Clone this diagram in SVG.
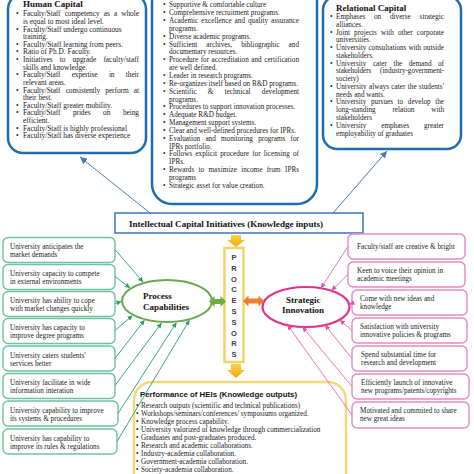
<svg xmlns="http://www.w3.org/2000/svg" width="474" height="474" viewBox="0 0 474 474">
<defs>
<style>
.t{font-family:"Liberation Serif","Times New Roman",serif;font-size:7.2px;fill:#222}
.th{font-family:"Liberation Serif","Times New Roman",serif;font-size:7.4px;fill:#222}
.h{font-family:"Liberation Serif","Times New Roman",serif;font-weight:bold;font-size:9px;fill:#111}
.bx{fill:#fff;stroke:#1e6db0;stroke-width:2.5}
.gb{fill:#fff;stroke:#6cc49f;stroke-width:1.4}
.pb{fill:#fff;stroke:#e58ac0;stroke-width:1.4}
.gl{stroke:#3aa58a;stroke-width:1;fill:none}
.pl{stroke:#e27ab4;stroke-width:1;fill:none}
.bl{stroke:#4a7bb0;stroke-width:1;fill:none}
.pr{font-family:"Liberation Sans",Arial,sans-serif;font-weight:bold;font-size:7.5px;fill:#404040;text-anchor:middle}
</style>
<marker id="ab" viewBox="0 0 10 10" refX="10" refY="5" markerWidth="7" markerHeight="7" markerUnits="userSpaceOnUse" orient="auto"><path d="M0,0 L10,5 L0,10 z" fill="#4a7bb0"/></marker>
<marker id="ag" viewBox="0 0 10 10" refX="10" refY="5" markerWidth="5" markerHeight="5" markerUnits="userSpaceOnUse" orient="auto"><path d="M0,0 L10,5 L0,10 z" fill="#2e9e5b"/></marker>
<marker id="ap" viewBox="0 0 10 10" refX="10" refY="5" markerWidth="5" markerHeight="5" markerUnits="userSpaceOnUse" orient="auto"><path d="M0,0 L10,5 L0,10 z" fill="#e0529c"/></marker>
<linearGradient id="gold" x1="0" y1="0" x2="0" y2="1"><stop offset="0" stop-color="#fbd24a"/><stop offset="1" stop-color="#f1ab08"/></linearGradient>
</defs>
<rect width="474" height="474" fill="#fff"/>

<g id="human-capital">
<rect class="bx" x="8" y="-6" width="138" height="159" rx="15"/>
<text class="h" x="23" y="7">Human Capital</text>
<g class="th">
<text x="16" y="16.3">•</text><text x="23" y="16.3" word-spacing="2.4" textLength="116" lengthAdjust="spacing">Faculty/Staff competency as a whole</text>
<text x="23" y="23.9">is equal to most ideal level.</text>
<text x="16" y="31.5">•</text><text x="23" y="31.5">Faculty/Staff undergo continuous</text>
<text x="23" y="39.2">training.</text>
<text x="16" y="46.8">•</text><text x="23" y="46.8">Faculty/Staff learning from peers.</text>
<text x="16" y="54.4">•</text><text x="23" y="54.4">Ratio of Ph.D. Faculty.</text>
<text x="16" y="62">•</text><text x="23" y="62" word-spacing="5.2" textLength="116" lengthAdjust="spacing">Initiatives to upgrade faculty/staff</text>
<text x="23" y="69.6">skills and knowledge.</text>
<text x="16" y="77.3">•</text><text x="23" y="77.3" word-spacing="9.6" textLength="116" lengthAdjust="spacing">Faculty/Staff expertise in their</text>
<text x="23" y="84.9">relevant areas.</text>
<text x="16" y="92.5">•</text><text x="23" y="92.5" word-spacing="3.4" textLength="116" lengthAdjust="spacing">Faculty/Staff consistently perform at</text>
<text x="23" y="100.1">their best.</text>
<text x="16" y="107.7">•</text><text x="23" y="107.7">Faculty/Staff greater mobility.</text>
<text x="16" y="115.4">•</text><text x="23" y="115.4" word-spacing="10.9" textLength="116" lengthAdjust="spacing">Faculty/Staff prides on being</text>
<text x="23" y="123">efficient.</text>
<text x="16" y="130.6">•</text><text x="23" y="130.6">Faculty/Staff is highly professional</text>
<text x="16" y="138.2">•</text><text x="23" y="138.2">Faculty/Staff has diverse experience</text>
</g>
</g>

<g id="structural-capital">
<rect class="bx" x="152" y="-20" width="165" height="224" rx="20"/>
<g class="t">
<text x="163" y="7.3">•</text><text x="169" y="7.3">Supportive &amp; comfortable culture</text>
<text x="163" y="15.15">•</text><text x="169" y="15.15">Comprehensive recruitment programs.</text>
<text x="163" y="23">•</text><text x="169" y="23" word-spacing="1.2" textLength="130" lengthAdjust="spacing">Academic excellence and quality assurance</text>
<text x="169" y="30.85">programs.</text>
<text x="163" y="38.7">•</text><text x="169" y="38.7">Diverse academic programs.</text>
<text x="163" y="46.55">•</text><text x="169" y="46.55" word-spacing="7.2" textLength="130" lengthAdjust="spacing">Sufficient archives, bibliographic and</text>
<text x="169" y="54.4">documentary resources.</text>
<text x="163" y="62.25">•</text><text x="169" y="62.25" word-spacing="0.7" textLength="130" lengthAdjust="spacing">Procedure for accreditation and certification</text>
<text x="169" y="70.1">are well defined.</text>
<text x="163" y="77.95">•</text><text x="169" y="77.95">Leader in research programs.</text>
<text x="163" y="85.8">•</text><text x="169" y="85.8">Re-organizes itself based on R&amp;D programs.</text>
<text x="163" y="93.65">•</text><text x="169" y="93.65" word-spacing="9.4" textLength="130" lengthAdjust="spacing">Scientific &amp; technical development</text>
<text x="169" y="101.5">programs.</text>
<text x="163" y="109.35">•</text><text x="169" y="109.35">Procedures to support innovation processes.</text>
<text x="163" y="117.2">•</text><text x="169" y="117.2">Adequate R&amp;D budget.</text>
<text x="163" y="125.05">•</text><text x="169" y="125.05">Management support systems.</text>
<text x="163" y="132.9">•</text><text x="169" y="132.9">Clear and well-defined procedures for IPRs.</text>
<text x="163" y="140.75">•</text><text x="169" y="140.75" word-spacing="3.4" textLength="130" lengthAdjust="spacing">Evaluation and monitoring programs for</text>
<text x="169" y="148.6">IPRs portfolio.</text>
<text x="163" y="156.45">•</text><text x="169" y="156.45" word-spacing="1.4" textLength="130" lengthAdjust="spacing">Follows explicit procedure for licensing of</text>
<text x="169" y="164.3">IPRs.</text>
<text x="163" y="172.15">•</text><text x="169" y="172.15" word-spacing="2.5" textLength="130" lengthAdjust="spacing">Rewards to maximize income from IPRs</text>
<text x="169" y="180">programs</text>
<text x="163" y="187.85">•</text><text x="169" y="187.85">Strategic asset for value creation.</text>
</g>
</g>

<g id="relational-capital">
<rect class="bx" x="323" y="-4" width="138" height="153" rx="14"/>
<text class="h" x="336" y="10.5">Relational Capital</text>
<g class="t">
<text x="330" y="19">•</text><text x="336" y="19" word-spacing="7" textLength="108" lengthAdjust="spacing">Emphases on diverse strategic</text>
<text x="336" y="26.77">alliances.</text>
<text x="330" y="34.54">•</text><text x="336" y="34.54" word-spacing="2.3" textLength="108" lengthAdjust="spacing">Joint projects with other corporate</text>
<text x="336" y="42.31">universities.</text>
<text x="330" y="50.08">•</text><text x="336" y="50.08" word-spacing="0.2" textLength="108" lengthAdjust="spacing">University consultations with outside</text>
<text x="336" y="57.85">stakeholders.</text>
<text x="330" y="65.62">•</text><text x="336" y="65.62" word-spacing="4.7" textLength="108" lengthAdjust="spacing">University cater the demand of</text>
<text x="336" y="73.39" word-spacing="7.1" textLength="108" lengthAdjust="spacing">stakeholders (industry-government-</text>
<text x="336" y="81.16">society)</text>
<text x="330" y="88.93">•</text><text x="336" y="88.93" word-spacing="0.4" textLength="108" lengthAdjust="spacing">University always cater the students'</text>
<text x="336" y="96.7">needs and wants.</text>
<text x="330" y="104.47">•</text><text x="336" y="104.47" word-spacing="2.8" textLength="108" lengthAdjust="spacing">University pursues to develop the</text>
<text x="336" y="112.24" word-spacing="15" textLength="108" lengthAdjust="spacing">long-standing relation with</text>
<text x="336" y="120.01">stakeholders</text>
<text x="330" y="127.78">•</text><text x="336" y="127.78" word-spacing="13" textLength="108" lengthAdjust="spacing">University emphases greater</text>
<text x="336" y="135.55">employability of graduates</text>
</g>
</g>

<g id="ic-initiatives">
<rect x="115" y="213" width="248" height="20" fill="#fff" stroke="#3a78b8" stroke-width="1.5"/>
<text class="h" x="129" y="226.5" textLength="194" lengthAdjust="spacingAndGlyphs">Intellectual Capital Initiatives (Knowledge inputs)</text>
</g>

<g id="processors">
<rect x="224.5" y="248" width="19" height="114" fill="#fff" stroke="#f3d36b" stroke-width="2.5"/>
<text class="pr" x="234" y="260">P</text>
<text class="pr" x="234" y="270.8">R</text>
<text class="pr" x="234" y="281.6">O</text>
<text class="pr" x="234" y="292.4">C</text>
<text class="pr" x="234" y="303.2">E</text>
<text class="pr" x="234" y="314">S</text>
<text class="pr" x="234" y="324.8">S</text>
<text class="pr" x="234" y="335.6">O</text>
<text class="pr" x="234" y="346.4">R</text>
<text class="pr" x="234" y="357.2">S</text>
</g>

<g id="process-capabilities">
<ellipse cx="167" cy="301" rx="45" ry="21" fill="#fff" stroke="#6aa84f" stroke-width="2"/>
<text class="h" x="143" y="299">Process</text>
<text class="h" x="143" y="310">Capabilities</text>
</g>

<g id="strategic-innovation">
<ellipse cx="306" cy="307" rx="43.5" ry="20" fill="#fff" stroke="#e0338c" stroke-width="2.2"/>
<text class="h" x="286" y="303">Strategic</text>
<text class="h" x="282" y="313">Innovation</text>
</g>

<g id="performance">
<rect x="134" y="382" width="212" height="112" rx="18" fill="#fff" stroke="#f6d87a" stroke-width="2.5"/>
<text x="140" y="397" textLength="157" lengthAdjust="spacingAndGlyphs" font-family="'Liberation Sans',Arial,sans-serif" font-weight="bold" font-size="8" fill="#111">Performance of HEIs (Knowledge outputs)</text>
<g class="t">
<text x="136" y="407.5">•</text><text x="141" y="407.5">Research outputs (scientific and technical publications)</text>
<text x="136" y="415.6">•</text><text x="141" y="415.6">Workshops/seminars/conferences/ symposiums organized.</text>
<text x="136" y="423.7">•</text><text x="141" y="423.7">Knowledge process capability.</text>
<text x="136" y="431.8">•</text><text x="141" y="431.8">University valorized of knowledge through commercialization</text>
<text x="136" y="439.9">•</text><text x="141" y="439.9">Graduates and post-graduates produced.</text>
<text x="136" y="448">•</text><text x="141" y="448">Research and academic collaborations.</text>
<text x="136" y="456.1">•</text><text x="141" y="456.1">Industry-academia collaboration.</text>
<text x="136" y="464.2">•</text><text x="141" y="464.2">Government-academia collaboration.</text>
<text x="136" y="472.3">•</text><text x="141" y="472.3">Society-academia collaboration.</text>
</g>
</g>

<g id="left-items" class="t">
<g id="l1"><rect class="gb" x="3" y="237.5" width="112" height="25" rx="5"/><text x="10" y="249">University anticipates the</text><text x="10" y="257">market demands</text></g>
<g id="l2"><rect class="gb" x="3" y="264.5" width="112" height="25" rx="5"/><text x="10" y="276">University capacity to compete</text><text x="10" y="284">in external environments</text></g>
<g id="l3"><rect class="gb" x="3" y="291.5" width="112" height="25" rx="5"/><text x="10" y="303">University has ability to cope</text><text x="10" y="311">with market changes quickly</text></g>
<g id="l4"><rect class="gb" x="3" y="318.5" width="112" height="25" rx="5"/><text x="10" y="330">University has capacity to</text><text x="10" y="338">improve degree programs</text></g>
<g id="l5"><rect class="gb" x="3" y="346" width="112" height="25" rx="5"/><text x="10" y="357.5">University caters students'</text><text x="10" y="365.5">services better</text></g>
<g id="l6"><rect class="gb" x="3" y="373.5" width="112" height="25" rx="5"/><text x="10" y="385">University facilitate in wide</text><text x="10" y="393">information interation</text></g>
<g id="l7"><rect class="gb" x="3" y="401" width="115" height="25" rx="5"/><text x="10" y="412.5">University capability to improve</text><text x="10" y="420.5">its systems &amp; procedures</text></g>
<g id="l8"><rect class="gb" x="3" y="429" width="114" height="25" rx="5"/><text x="10" y="440.5">University has capability to</text><text x="10" y="448.5">improve its rules &amp; regulations</text></g>
</g>

<g id="right-items" class="t">
<g id="r1"><rect class="pb" x="348" y="234" width="117" height="25" rx="5"/><text x="357" y="248.5">Faculty/staff are creative &amp; bright</text></g>
<g id="r2"><rect class="pb" x="348" y="262" width="117" height="25" rx="5"/><text x="357" y="272.5">Keen to voice their opinion in</text><text x="357" y="281">academic meetings</text></g>
<g id="r3"><rect class="pb" x="352" y="290" width="115" height="25" rx="5"/><text x="360" y="300.5">Come with new ideas and</text><text x="360" y="309">knowledge</text></g>
<g id="r4"><rect class="pb" x="352" y="318" width="115" height="25" rx="5"/><text x="360" y="328.5">Satisfaction with university</text><text x="360" y="337">innovative policies &amp; programs</text></g>
<g id="r5"><rect class="pb" x="352" y="346" width="115" height="25" rx="5"/><text x="361" y="356.5">Spend substantial time for</text><text x="361" y="365">research and development</text></g>
<g id="r6"><rect class="pb" x="352" y="374" width="117" height="25" rx="5"/><text x="361" y="384.5">Efficiently launch of innovative</text><text x="361" y="393">new programs/patents/copyrights</text></g>
<g id="r7"><rect class="pb" x="352" y="402" width="117" height="26" rx="5"/><text x="360" y="412.5">Motivated and commited to share</text><text x="360" y="421">new great ideas</text></g>
</g>

<g id="connectors">
<line class="bl" x1="150" y1="213" x2="80" y2="157" marker-end="url(#ab)"/>
<line class="bl" x1="333" y1="213" x2="387" y2="151" marker-end="url(#ab)"/>
<path d="M231,235 H241 V240 H245 L236,247 L227,240 H231 Z" fill="url(#gold)"/>
<path d="M231,364 H241 V370 H245 L236,378 L227,370 H231 Z" fill="url(#gold)"/>
<path d="M209,301.5 L214.5,296 V299 H220.5 V296 L226,301.5 L220.5,307 V304 H214.5 V307 Z" fill="#70ad47"/>
<path d="M243,301 L248.5,295.5 V298.5 H258.5 V295.5 L264,301 L258.5,306.5 V303.5 H248.5 V306.5 Z" fill="#ed7d31"/>
<line class="gl" x1="115" y1="249.5" x2="143" y2="282" marker-end="url(#ag)"/>
<line class="gl" x1="115" y1="276.5" x2="130" y2="288" marker-end="url(#ag)"/>
<line class="gl" x1="115" y1="303.5" x2="121.5" y2="301.5" marker-end="url(#ag)"/>
<line class="gl" x1="115" y1="330.5" x2="132.5" y2="315.5" marker-end="url(#ag)"/>
<line class="gl" x1="115" y1="358.5" x2="144.5" y2="320" marker-end="url(#ag)"/>
<line class="gl" x1="115" y1="385.5" x2="161.5" y2="323" marker-end="url(#ag)"/>
<line class="gl" x1="118" y1="413.5" x2="176.5" y2="322.5" marker-end="url(#ag)"/>
<line class="gl" x1="117" y1="441.5" x2="189.5" y2="320" marker-end="url(#ag)"/>
<line class="pl" x1="348" y1="246.5" x2="321" y2="288" marker-end="url(#ap)"/>
<line class="pl" x1="348" y1="274.5" x2="331.5" y2="290.5" marker-end="url(#ap)"/>
<line class="pl" x1="353" y1="303" x2="349.5" y2="304.5" marker-end="url(#ap)"/>
<line class="pl" x1="352" y1="330.5" x2="340" y2="320" marker-end="url(#ap)"/>
<line class="pl" x1="352" y1="358.5" x2="325" y2="325" marker-end="url(#ap)"/>
<line class="pl" x1="352" y1="386.5" x2="302.5" y2="327" marker-end="url(#ap)"/>
<line class="pl" x1="352" y1="415" x2="287.5" y2="325" marker-end="url(#ap)"/>
</g>
</svg>
